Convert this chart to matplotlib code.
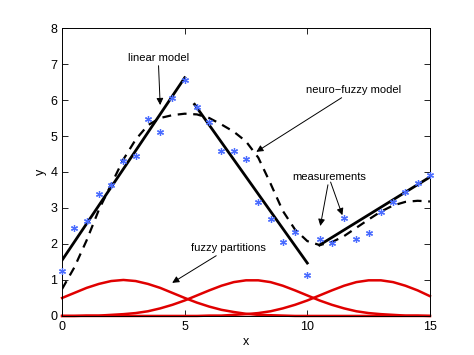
import numpy as np
from matplotlib import pyplot as plt

plt.rcParams['font.family'] = ['Liberation Sans', 'DejaVu Sans']

# measurement grid and values
x_meas = np.arange(0, 15.01, 0.5)
y_meas = [1.25, 2.44, 2.65, 3.38, 3.65, 4.3, 4.45, 5.48, 5.1, 6.05, 6.55,
          5.8, 5.4, 4.58, 4.58, 4.36, 3.17, 2.7, 2.06, 2.33, 1.14,
          2.14, 2.02, 2.72, 2.14, 2.31, 2.9, 3.17, 3.44, 3.7, 3.92]

# neuro-fuzzy model output (dashed)
y_nf = [0.75, 1.35, 2.1, 2.95, 3.65, 4.35, 4.9, 5.3, 5.5, 5.58, 5.62,
        5.6, 5.5, 5.32, 5.12, 4.85, 4.4, 3.68, 2.92, 2.4, 2.08,
        1.97, 2.05, 2.22, 2.45, 2.68, 2.9, 3.07, 3.17, 3.2, 3.18]

# local linear models (segment end points)
lin_x = [[0, 5], [5.4, 10], [10.5, 15]]
lin_y = [[1.55, 6.62], [5.88, 1.47], [1.97, 3.86]]

# fuzzy partitions (membership values)
mf1 = [0.50, 0.64, 0.78, 0.89, 0.97, 1.0, 0.97, 0.89, 0.78, 0.64, 0.50,
       0.37, 0.26, 0.17, 0.11, 0.06, 0.03, 0.02, 0.01, 0, 0,
       0, 0, 0, 0, 0, 0, 0, 0, 0, 0]
mf2 = [0, 0, 0.01, 0.01, 0.03, 0.05, 0.08, 0.13, 0.21, 0.31, 0.43,
       0.57, 0.71, 0.84, 0.94, 0.99, 0.99, 0.94, 0.84, 0.71, 0.57,
       0.43, 0.31, 0.21, 0.13, 0.08, 0.05, 0.03, 0.01, 0.01, 0]
mf3 = [0, 0, 0, 0, 0, 0, 0, 0, 0, 0, 0,
       0, 0.01, 0.01, 0.03, 0.05, 0.08, 0.13, 0.21, 0.31, 0.43,
       0.57, 0.71, 0.84, 0.94, 0.99, 0.99, 0.94, 0.84, 0.71, 0.55]


def main():
    fig = plt.figure(figsize=(4.74, 3.55), dpi=100)
    ax = fig.add_axes([0.131, 0.110, 0.776, 0.811])

    for mf in (mf1, mf2, mf3):
        ax.plot(x_meas, mf, color='#e00000', lw=1.8, clip_on=False)

    ax.plot(x_meas, y_nf, color='black', lw=1.6, ls=(0, (4, 3)))
    for xs, ys in zip(lin_x, lin_y):
        ax.plot(xs, ys, color='black', lw=2.0)

    ax.plot(x_meas, y_meas, ls='none', marker=(6, 2, 0), ms=5,
            mew=0.9, color='#4a6cff', clip_on=False, zorder=5)

    arrow = dict(arrowstyle='-|>', color='black', lw=0.7,
                 mutation_scale=10, shrinkA=0, shrinkB=0)
    ax.annotate('linear model', xy=(4.0, 5.86), xytext=(3.92, 7.17),
                ha='center', va='center', fontsize=8, arrowprops=arrow)
    ax.annotate('neuro\u2212fuzzy model', xy=(7.92, 4.56), xytext=(11.9, 6.28),
                ha='center', va='center', fontsize=8, arrowprops=arrow)
    ax.annotate('fuzzy partitions', xy=(4.49, 0.92), xytext=(6.8, 1.89),
                ha='center', va='center', fontsize=8, arrowprops=arrow)
    ax.annotate('measurements', xy=(10.53, 2.5), xytext=(10.9, 3.86),
                ha='center', va='center', fontsize=8, arrowprops=arrow)
    ax.annotate('', xy=(11.43, 2.8), xytext=(10.95, 3.72),
                arrowprops=arrow)

    ax.set_xlim(0, 15)
    ax.set_ylim(0, 8)
    ax.set_xticks([0, 5, 10, 15])
    ax.set_yticks(range(9))
    ax.tick_params(direction='in', top=True, right=True, labelsize=9,
                   length=4, width=0.6)
    for s in ax.spines.values():
        s.set_linewidth(0.7)
    ax.set_xlabel('x', fontsize=9, labelpad=2)
    ax.set_ylabel('y', fontsize=9, labelpad=2)

    fig.savefig('out.png', dpi=100)


if __name__ == "__main__":
    main()
